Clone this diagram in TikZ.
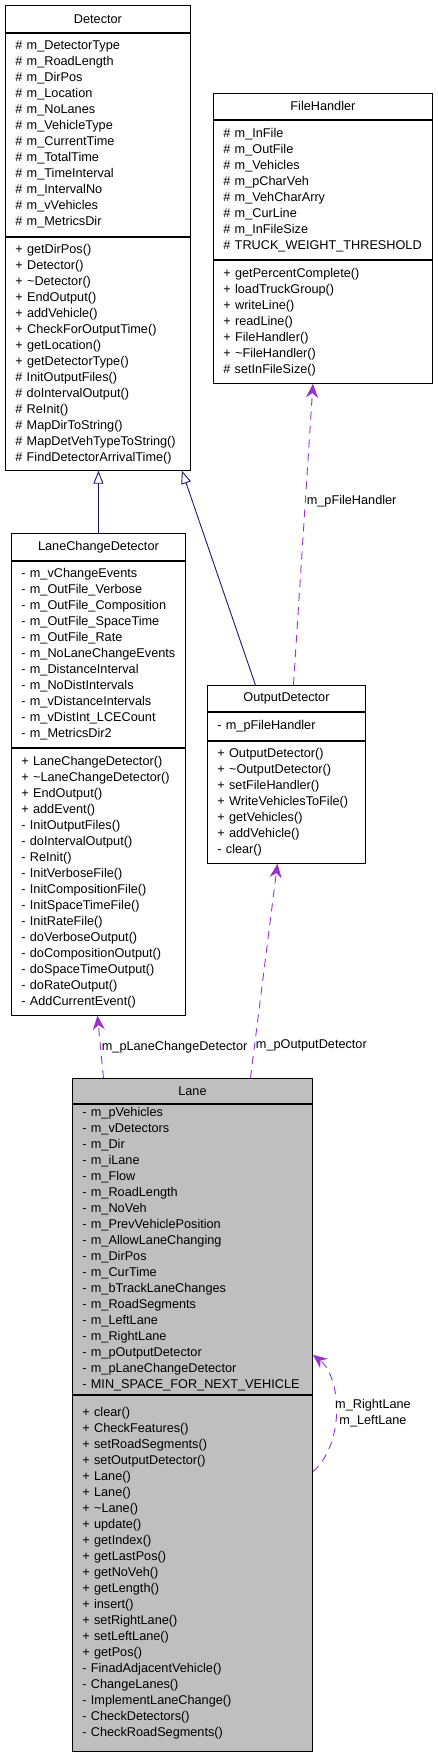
\documentclass[tikz,border=0pt]{standalone}
\usepackage{fontspec}
\setmainfont{Liberation Sans}
\usepackage{tikz}
\usetikzlibrary{arrows.meta,positioning}
\definecolor{doxyedge}{HTML}{191970}
\definecolor{doxyuse}{HTML}{9A32CD}
\definecolor{doxygrey}{HTML}{BFBFBF}

\begin{document}
\begin{tikzpicture}[
    x=1pt,y=-1pt,
    sect/.style = {rectangle,draw=black,line width=0.9pt,fill=white,anchor=north west,
                   inner xsep=10pt,inner ysep=0pt,align=left,
                   font=\fontsize{12.7}{16}\selectfont},
    ttl/.style  = {sect,align=center},
    cur/.style  = {fill=doxygrey},
    inh/.style  = {-{Triangle[open,length=13pt,width=10pt]},doxyedge,line width=0.9pt},
    use/.style  = {-{Stealth[length=14pt,width=12pt]},doxyuse,line width=0.9pt,
                   dash pattern=on 8pt off 6pt},
    lbl/.style  = {font=\fontsize{12.7}{16}\selectfont,inner sep=1pt,align=center,
                   text=black},
  ]

  \useasboundingbox (0,0) rectangle (437,1755);

  % Detector
  \node[ttl,text width=165pt,minimum height=27pt] (detT) at (5,5) {Detector};
  \node[sect,text width=165pt,minimum height=203pt] (detA) at (detT.south west)
       {\# m\_DetectorType\\\# m\_RoadLength\\\# m\_DirPos\\\# m\_Location\\
        \# m\_NoLanes\\\# m\_VehicleType\\\# m\_CurrentTime\\\# m\_TotalTime\\
        \# m\_TimeInterval\\\# m\_IntervalNo\\\# m\_vVehicles\\\# m\_MetricsDir};
  \node[sect,text width=165pt,minimum height=233pt] (detM) at (detA.south west)
       {+ getDirPos()\\+ Detector()\\+ \textasciitilde Detector()\\+ EndOutput()\\
        + addVehicle()\\+ CheckForOutputTime()\\+ getLocation()\\+ getDetectorType()\\
        \# InitOutputFiles()\\\# doIntervalOutput()\\\# ReInit()\\\# MapDirToString()\\
        \# MapDetVehTypeToString()\\\# FindDetectorArrivalTime()};

  % FileHandler
  \node[ttl,text width=199pt,minimum height=26pt] (fhT) at (213,93) {FileHandler};
  \node[sect,text width=199pt,minimum height=139pt] (fhA) at (fhT.south west)
       {\# m\_InFile\\\# m\_OutFile\\\# m\_Vehicles\\\# m\_pCharVeh\\
        \# m\_VehCharArry\\\# m\_CurLine\\\# m\_InFileSize\\\# TRUCK\_WEIGHT\_THRESHOLD};
  \node[sect,text width=199pt,minimum height=123pt] (fhM) at (fhA.south west)
       {+ getPercentComplete()\\+ loadTruckGroup()\\+ writeLine()\\+ readLine()\\
        + FileHandler()\\+ \textasciitilde FileHandler()\\\# setInFileSize()};

  % LaneChangeDetector
  \node[ttl,text width=154pt,minimum height=27pt] (lcdT) at (11,533) {LaneChangeDetector};
  \node[sect,text width=154pt,minimum height=186pt] (lcdA) at (lcdT.south west)
       {- m\_vChangeEvents\\- m\_OutFile\_Verbose\\- m\_OutFile\_Composition\\
        - m\_OutFile\_SpaceTime\\- m\_OutFile\_Rate\\- m\_NoLaneChangeEvents\\
        - m\_DistanceInterval\\- m\_NoDistIntervals\\- m\_vDistanceIntervals\\
        - m\_vDistInt\_LCECount\\- m\_MetricsDir2};
  \node[sect,text width=154pt,minimum height=267pt] (lcdM) at (lcdA.south west)
       {+ LaneChangeDetector()\\+ \textasciitilde LaneChangeDetector()\\+ EndOutput()\\
        + addEvent()\\- InitOutputFiles()\\- doIntervalOutput()\\- ReInit()\\
        - InitVerboseFile()\\- InitCompositionFile()\\- InitSpaceTimeFile()\\
        - InitRateFile()\\- doVerboseOutput()\\- doCompositionOutput()\\
        - doSpaceTimeOutput()\\- doRateOutput()\\- AddCurrentEvent()};

  % OutputDetector
  \node[ttl,text width=138pt,minimum height=26pt] (odT) at (207,685) {OutputDetector};
  \node[sect,text width=138pt,minimum height=28pt] (odA) at (odT.south west)
       {- m\_pFileHandler};
  \node[sect,text width=138pt,minimum height=122pt] (odM) at (odA.south west)
       {+ OutputDetector()\\+ \textasciitilde OutputDetector()\\+ setFileHandler()\\
        + WriteVehiclesToFile()\\+ getVehicles()\\+ addVehicle()\\- clear()};

  % Lane
  \node[ttl,cur,text width=220pt,minimum height=25pt] (laneT) at (72,1078) {Lane};
  \node[sect,cur,text width=220pt,minimum height=290pt] (laneA) at (laneT.south west)
       {- m\_pVehicles\\- m\_vDetectors\\- m\_Dir\\- m\_iLane\\- m\_Flow\\
        - m\_RoadLength\\- m\_NoVeh\\- m\_PrevVehiclePosition\\- m\_AllowLaneChanging\\
        - m\_DirPos\\- m\_CurTime\\- m\_bTrackLaneChanges\\- m\_RoadSegments\\
        - m\_LeftLane\\- m\_RightLane\\- m\_pOutputDetector\\- m\_pLaneChangeDetector\\
        - MIN\_SPACE\_FOR\_NEXT\_VEHICLE};
  \node[sect,cur,text width=220pt,minimum height=356pt] (laneM) at (laneA.south west)
       {+ clear()\\+ CheckFeatures()\\+ setRoadSegments()\\+ setOutputDetector()\\
        + Lane()\\+ Lane()\\+ \textasciitilde Lane()\\+ update()\\+ getIndex()\\
        + getLastPos()\\+ getNoVeh()\\+ getLength()\\+ insert()\\+ setRightLane()\\
        + setLeftLane()\\+ getPos()\\- FinadAdjacentVehicle()\\- ChangeLanes()\\
        - ImplementLaneChange()\\- CheckDetectors()\\- CheckRoadSegments()};

  % inheritance
  \draw[inh] (lcdT.north) -- (lcdT.north |- detM.south);
  \draw[inh] ([xshift=-31pt]odT.north) -- ([xshift=-9pt]detM.south east);

  % usage
  \draw[use] ([xshift=7pt]odT.north) -- ([xshift=-10pt]fhM.south)
       node[lbl,pos=0.61,anchor=west] (lblFh) {m\_pFileHandler};
  \draw[use] ([xshift=-89pt]laneT.north) -- ([xshift=-1pt]lcdM.south)
       node[lbl,pos=0.5,anchor=west] (lblLcd) {m\_pLaneChangeDetector};
  \draw[use] ([xshift=58pt]laneT.north) -- ([xshift=-9pt]odM.south)
       node[lbl,pos=0.15,anchor=west] (lblOd) {m\_pOutputDetector};

  \coordinate (loopA) at ([yshift=-77pt]laneA.south east);
  \coordinate (loopB) at ([yshift=40pt]laneA.south east);
  \draw[use] (loopA) .. controls +(33,-30) and +(28,22) .. (loopB);
  \node[lbl] (lblLane) at (373,1413) {m\_RightLane\\m\_LeftLane};

\end{tikzpicture}
\end{document}
